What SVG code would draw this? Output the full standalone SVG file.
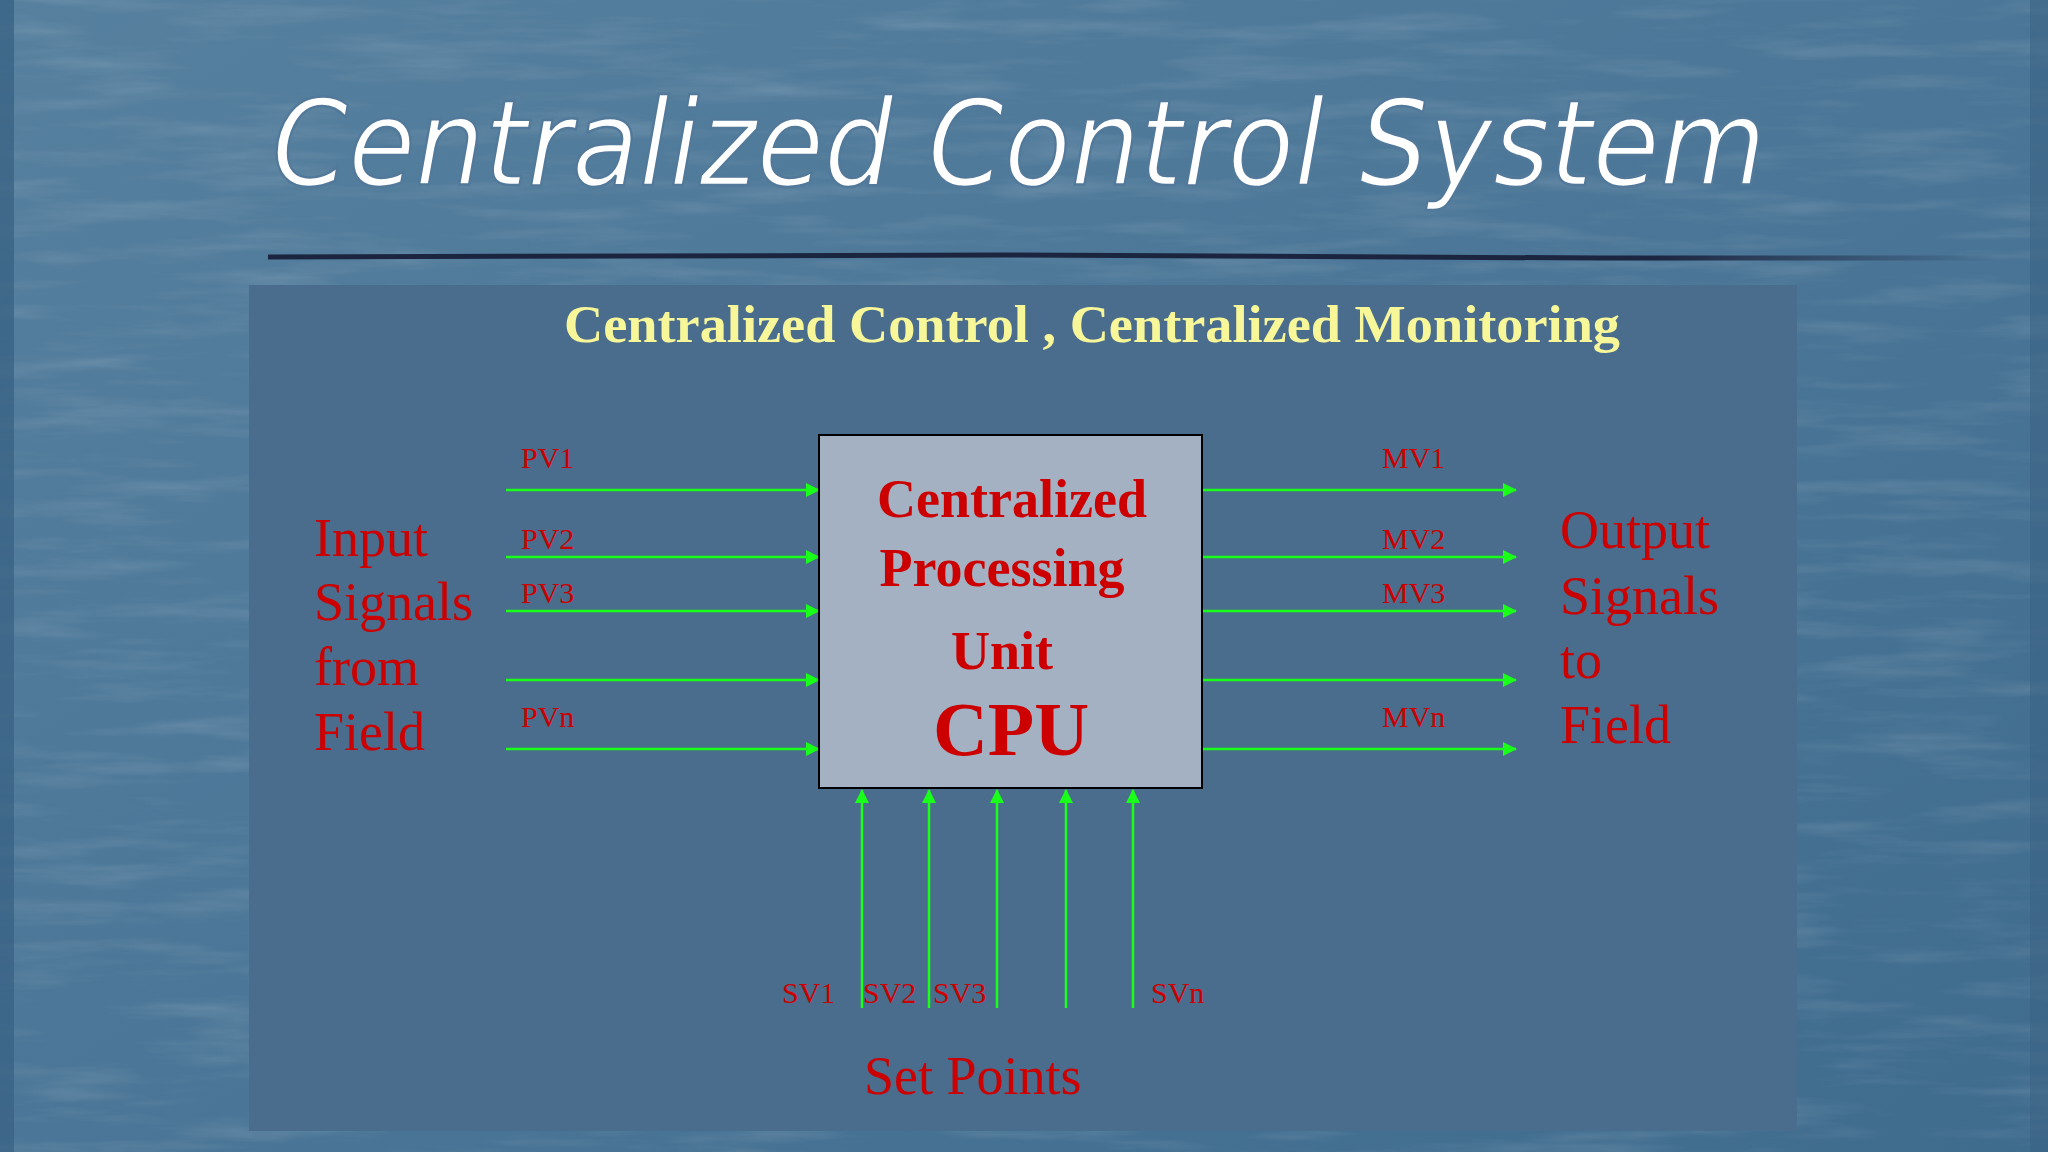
<svg xmlns="http://www.w3.org/2000/svg" width="2048" height="1152" viewBox="0 0 2048 1152">
<defs>
<style>
.lbl{font-family:"Liberation Serif","Times New Roman",serif;fill:#cc0000;}
.sm{font-size:30px;}
.big{font-size:54px;}
.bold{font-weight:bold;}
.arr{stroke:#19ff19;stroke-width:2.5;fill:none;marker-end:url(#ah);}
</style>
<marker id="ah" markerUnits="userSpaceOnUse" markerWidth="14" markerHeight="14" refX="13" refY="7" orient="auto">
<path d="M0,0 L14,7 L0,14 Z" fill="#19ff19"/>
</marker>
<linearGradient id="bg" x1="0" y1="0" x2="1" y2="1">
<stop offset="0" stop-color="#56809e"/>
<stop offset="0.5" stop-color="#4b7697"/>
<stop offset="1" stop-color="#3f6b8d"/>
</linearGradient>
<filter id="chalk" x="0" y="0" width="100%" height="100%">
<feTurbulence type="fractalNoise" baseFrequency="0.006 0.05" numOctaves="4" seed="7" result="n"/>
<feColorMatrix in="n" type="matrix" values="0 0 0 0 1  0 0 0 0 1  0 0 0 0 1  0 0 0 1.2 -0.55"/>
</filter>
<linearGradient id="line" x1="0" y1="0" x2="1" y2="0">
<stop offset="0" stop-color="#1c2540"/>
<stop offset="0.8" stop-color="#1c2540"/>
<stop offset="1" stop-color="#1c2540" stop-opacity="0"/>
</linearGradient>
</defs>
<g id="background">
<rect x="0" y="0" width="2048" height="1152" fill="url(#bg)"/>
<rect x="0" y="0" width="2048" height="1152" filter="url(#chalk)" opacity="0.22"/>
<rect x="0" y="0" width="14" height="1152" fill="#3a6384" opacity="0.8"/>
<rect x="2030" y="0" width="18" height="1152" fill="#3a6384" opacity="0.6"/>
</g>
<g id="title">
<text x="272" y="185" font-family="'DejaVu Sans','Lato',sans-serif" font-weight="200" font-style="italic" font-size="120" fill="#ffffff" stroke="#52799a" stroke-width="2.5" textLength="1494" lengthAdjust="spacingAndGlyphs">Centralized Control System</text>
<path d="M268,257 L1000,255 L1600,258 L1998,258" stroke="url(#line)" stroke-width="5" fill="none"/>
</g>
<g id="panel">
<rect x="249" y="285" width="1548" height="846" fill="#4a6d8d"/>
<text x="564" y="342" font-family="'Liberation Serif','Times New Roman',serif" font-weight="bold" font-size="53" fill="#f7f79a" textLength="1056" lengthAdjust="spacingAndGlyphs">Centralized Control , Centralized Monitoring</text>
</g>
<g id="connectors">
<line class="arr" x1="506" y1="490" x2="819" y2="490"/>
<line class="arr" x1="506" y1="557" x2="819" y2="557"/>
<line class="arr" x1="506" y1="611" x2="819" y2="611"/>
<line class="arr" x1="506" y1="680" x2="819" y2="680"/>
<line class="arr" x1="506" y1="749" x2="819" y2="749"/>
<line class="arr" x1="1202" y1="490" x2="1516" y2="490"/>
<line class="arr" x1="1202" y1="557" x2="1516" y2="557"/>
<line class="arr" x1="1202" y1="611" x2="1516" y2="611"/>
<line class="arr" x1="1202" y1="680" x2="1516" y2="680"/>
<line class="arr" x1="1202" y1="749" x2="1516" y2="749"/>
<line class="arr" x1="862" y1="1008" x2="862" y2="790"/>
<line class="arr" x1="929" y1="1008" x2="929" y2="790"/>
<line class="arr" x1="997" y1="1008" x2="997" y2="790"/>
<line class="arr" x1="1066" y1="1008" x2="1066" y2="790"/>
<line class="arr" x1="1133" y1="1008" x2="1133" y2="790"/>
</g>
<g id="cpu">
<rect x="819" y="435" width="383" height="353" fill="#a3b1c2" stroke="#000" stroke-width="2"/>
<text class="lbl bold" x="1012" y="517" font-size="54" text-anchor="middle">Centralized</text>
<text class="lbl bold" x="1002" y="586" font-size="54" text-anchor="middle">Processing</text>
<text class="lbl bold" x="1002" y="669" font-size="54" text-anchor="middle">Unit</text>
<text class="lbl bold" x="1011" y="755" font-size="76" text-anchor="middle">CPU</text>
</g>
<g id="inputs">
<text class="lbl big" x="314" y="556">Input</text>
<text class="lbl big" x="314" y="620">Signals</text>
<text class="lbl big" x="314" y="685">from</text>
<text class="lbl big" x="314" y="750">Field</text>
<text class="lbl sm" x="521" y="468">PV1</text>
<text class="lbl sm" x="521" y="549">PV2</text>
<text class="lbl sm" x="521" y="603">PV3</text>
<text class="lbl sm" x="521" y="727">PVn</text>
</g>
<g id="outputs">
<text class="lbl big" x="1560" y="548">Output</text>
<text class="lbl big" x="1560" y="614">Signals</text>
<text class="lbl big" x="1560" y="678">to</text>
<text class="lbl big" x="1560" y="743">Field</text>
<text class="lbl sm" x="1382" y="468">MV1</text>
<text class="lbl sm" x="1382" y="549">MV2</text>
<text class="lbl sm" x="1382" y="603">MV3</text>
<text class="lbl sm" x="1382" y="727">MVn</text>
</g>
<g id="setpoints">
<text class="lbl sm" x="782" y="1003">SV1</text>
<text class="lbl sm" x="863" y="1003">SV2</text>
<text class="lbl sm" x="933" y="1003">SV3</text>
<text class="lbl sm" x="1151" y="1003">SVn</text>
<text class="lbl big" x="864" y="1094">Set Points</text>
</g>
</svg>
